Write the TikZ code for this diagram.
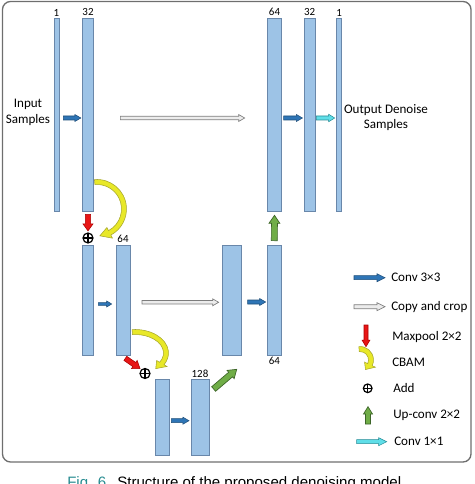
\documentclass[tikz,border=0pt]{standalone}
\usepackage{fontspec}
\setmainfont{Carlito}
\newfontfamily\capfont{Liberation Sans}
\usepackage{xcolor}
\usepackage{tikz}
\usetikzlibrary{calc,positioning}

\definecolor{barfill}{RGB}{157,195,230}
\definecolor{baredge}{RGB}{105,135,170}
\definecolor{convfill}{RGB}{46,117,182}
\definecolor{convedge}{RGB}{31,78,121}
\definecolor{copyfill}{RGB}{236,236,236}
\definecolor{copyedge}{RGB}{125,125,125}
\definecolor{poolfill}{RGB}{232,22,22}
\definecolor{pooledge}{RGB}{170,0,0}
\definecolor{upfill}{RGB}{112,173,71}
\definecolor{upedge}{RGB}{60,100,40}
\definecolor{onefill}{RGB}{95,222,232}
\definecolor{oneedge}{RGB}{40,140,150}
\definecolor{cbamfill}{RGB}{232,232,40}
\definecolor{cbamedge}{RGB}{165,165,45}
\definecolor{frameline}{RGB}{110,110,110}
\definecolor{figteal}{RGB}{40,140,145}

\begin{document}
\begin{tikzpicture}[
    x=0.75pt, y=-0.75pt,
    bar/.style={rectangle, draw=baredge, fill=barfill, inner sep=0pt, line width=0.5pt},
    num/.style={font=\fontsize{8.2}{9}\selectfont, inner sep=1pt},
    txt/.style={font=\fontsize{9.8}{11.5}\selectfont, align=center, inner sep=0pt},
    addsym/.style={circle, draw=black, line width=0.9pt, minimum size=7.5pt, inner sep=0pt,
        path picture={\draw[line width=0.8pt] (path picture bounding box.north) -- (path picture bounding box.south)
            (path picture bounding box.west) -- (path picture bounding box.east);}},
    blockarrow/.style args={#1/#2/#3}{to path={
        ($(\tikztostart)!#1!-90:(\tikztotarget)$)
        -- ($($(\tikztotarget)!#3!(\tikztostart)$)!#1!90:(\tikztostart)$)
        -- ($($(\tikztotarget)!#3!(\tikztostart)$)!#2!90:(\tikztostart)$)
        -- (\tikztotarget)
        -- ($($(\tikztotarget)!#3!(\tikztostart)$)!#2!-90:(\tikztostart)$)
        -- ($($(\tikztotarget)!#3!(\tikztostart)$)!#1!-90:(\tikztostart)$)
        -- ($(\tikztostart)!#1!90:(\tikztotarget)$)
        -- cycle}},
    conv/.style={blockarrow=1.5pt/2.6pt/4.5pt, fill=convfill, draw=convedge, line width=0.4pt},
    copy/.style={blockarrow=1.3pt/2.6pt/4.5pt, fill=copyfill, draw=copyedge, line width=0.5pt},
    pool/.style={blockarrow=1.9pt/3.75pt/5.25pt, fill=poolfill, draw=pooledge, line width=0.4pt},
    upconv/.style={blockarrow=2.25pt/4.1pt/6pt, fill=upfill, draw=upedge, line width=0.5pt},
    onebyone/.style={blockarrow=1.5pt/2.8pt/4.5pt, fill=onefill, draw=oneedge, line width=0.4pt},
    pics/cbam/.style args={#1/#2/#3/#4}{code={
        \filldraw[fill=cbamfill, draw=cbamedge, line width=0.4pt]
            ({(#1+2.5)*cos(-95)},{(#2+2.5)*sin(-95)})
            arc[start angle=-95, end angle=#3, x radius=#1+2.5, y radius=#2+2.5]
            -- ({(#1+6)*cos(#3)},{(#2+6)*sin(#3)})
            -- ({#1*cos(#3+#4)},{#2*sin(#3+#4)})
            -- ({(#1-6)*cos(#3)},{(#2-6)*sin(#3)})
            -- ({(#1-2.5)*cos(#3)},{(#2-2.5)*sin(#3)})
            arc[start angle=#3, end angle=-95, x radius=#1-2.5, y radius=#2-2.5]
            -- cycle;}}
]
    \useasboundingbox (0,0) rectangle (474,484);
    \draw[frameline, line width=1pt, rounded corners=6pt] (2.5,1.5) rectangle (471,462);

    % Encoder / decoder, top level
    \node[bar, minimum width=3.75pt, minimum height=144.75pt, label={[num]above:1}] (inp) at (56.5,114.5) {};
    \node[bar, minimum width=7.95pt, minimum height=144.75pt, label={[num]above:32}] (enc1) at (88,114.5) {};
    \node[bar, minimum width=10.8pt, minimum height=144.75pt, label={[num]above:64}] (dec1) at (274.5,114.5) {};
    \node[bar, minimum width=8pt, minimum height=144.75pt, label={[num]above:32}] (dec1b) at (309.7,114.5) {};
    \node[bar, minimum width=3.75pt, minimum height=144.75pt, label={[num]above:1}] (outp) at (339.2,114.5) {};
    \node[txt] (intext) at (28,112.5) {Input\\Samples};
    \node[txt] (outtext) at (386,117.5) {Output Denoise\\Samples};

    % Second level
    \node[addsym] (add1) at (88,238) {};
    \node[bar, minimum width=7.95pt, minimum height=82.5pt] (enc2a) at (88,300) {};
    \node[bar, minimum width=10.5pt, minimum height=82.5pt, label={[num]above:64}] (enc2b) at (123,300) {};
    \node[bar, minimum width=14.25pt, minimum height=82.5pt] (dec2a) at (232.2,300) {};
    \node[bar, minimum width=10.5pt, minimum height=82.5pt, label={[num]below:64}] (dec2b) at (274.3,300) {};

    % Bottom level
    \node[addsym] (add2) at (145,373.5) {};
    \node[bar, minimum width=10.5pt, minimum height=56.8pt] (bot1) at (162.3,417.2) {};
    \node[bar, minimum width=13.5pt, minimum height=56.8pt, label={[num]above:128}] (bot2) at (200,417.2) {};

    % Arrows
    \draw[conv] ($(inp.east)+(4,3.5)$) to ($(enc1.west)+(-1.5,3.5)$);
    \draw[copy] ($(enc1.east)+(26.7,3.5)$) to ($(dec1.west)+(-22.3,3.5)$);
    \draw[conv] ($(dec1.east)+(1.6,3.5)$) to ($(dec1b.west)+(-1.6,3.5)$);
    \draw[onebyone] ($(dec1b.east)+(1,3.5)$) to ($(outp.west)+(-1.7,3.5)$);
    \draw[pool] ($(enc1.south)+(0,3)$) to ($(add1.north)+(0,-1.5)$);
    \pic at (97,209) {cbam=27/27/62/22};
    \draw[conv, blockarrow=1.1pt/2.25pt/3.75pt] ($(enc2a.east)+(4.7,4)$) to ($(enc2b.west)+(-4,4)$);
    \draw[copy] ($(enc2b.east)+(11.7,2.3)$) to ($(dec2a.west)+(-3.7,2.3)$);
    \draw[conv] ($(dec2a.east)+(5.6,2)$) to ($(dec2b.west)+(-1.3,2)$);
    \draw[upconv] ($(dec2b.north)+(0,-4)$) to ($(dec1.south)+(0,4)$);
    \draw[pool] ($(enc2b.south east)+(-5,3)$) to ($(add2.north west)+(-1,-1)$);
    \pic at (135,353) {cbam=31/21/30/18};
    \draw[conv] ($(bot1.east)+(1.7,3.5)$) to ($(bot2.west)+(-1.7,3.5)$);
    \draw[upconv] ($(bot2.north east)+(4.3,10)$) to ($(dec2a.south)+(4.5,14)$);

    % Legend
    \node[txt, anchor=west] (lconv) at (391,277.7) {Conv 3×3};
    \node[txt, anchor=west] (lcopy) at (391,306.7) {Copy and crop};
    \node[txt, anchor=west] (lmax) at (392,336.7) {Maxpool 2×2};
    \node[txt, anchor=west] (lcbam) at (392,362) {CBAM};
    \node[txt, anchor=west] (ladd) at (393,388.3) {Add};
    \node[txt, anchor=west] (lup) at (393,415.7) {Up-conv 2×2};
    \node[txt, anchor=west] (lone) at (394,441.7) {Conv 1×1};
    \node[addsym, minimum size=6.5pt] (addkey) at (367.7,388.3) {};
    \draw[conv, blockarrow=1.5pt/3pt/6pt] ($(lconv.west)+(-37,0)$) to ($(lconv.west)+(-6,0)$);
    \draw[copy, blockarrow=1.5pt/3pt/6pt] ($(lcopy.west)+(-37,0)$) to ($(lcopy.west)+(-6,0)$);
    \draw[pool, blockarrow=1.5pt/3pt/5pt] ($(lmax.west)+(-26,-11.7)$) to ($(lmax.west)+(-26,10)$);
    \pic at (360,360) {cbam=11/11/25/35};
    \draw[upconv, blockarrow=1.9pt/3.4pt/5.5pt] ($(lup.west)+(-25,8.3)$) to ($(lup.west)+(-25,-9)$);
    \draw[onebyone, blockarrow=1.5pt/3pt/6pt] ($(lone.west)+(-37.3,0)$) to ($(lone.west)+(-7.3,0)$);

    % Caption
    \node[anchor=base west, font=\capfont\fontsize{11.3}{13}\selectfont, text=figteal, inner sep=0pt] (figno) at (67,487) {Fig. 6};
    \node[anchor=base west, font=\capfont\fontsize{11.3}{13}\selectfont, inner sep=0pt] (caption) at (117,487) {Structure of the proposed denoising model};
\end{tikzpicture}
\end{document}
